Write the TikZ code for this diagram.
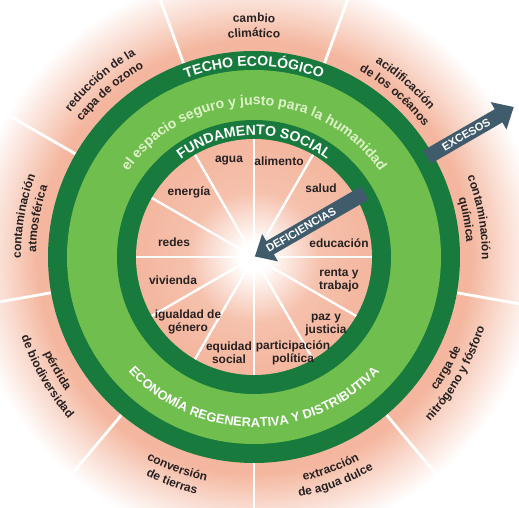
\documentclass[tikz,border=0pt]{standalone}
\usepackage{fontspec}
\setmainfont{Liberation Sans}
\usepackage{xcolor}
\usepackage{tikz}
\usetikzlibrary{arrows.meta, decorations.text}
\definecolor{ceiling}{RGB}{24,122,60}
\definecolor{safezone}{RGB}{112,190,78}
\definecolor{blush}{RGB}{244,182,158}
\definecolor{slate}{RGB}{64,92,108}
\definecolor{inkdark}{RGB}{38,32,32}
\definecolor{palegreen}{RGB}{222,242,200}
\newcommand{\lblfont}{\fontsize{10.2}{11.2}\selectfont\bfseries}
\newcommand{\ringfont}{\fontsize{12}{12}\selectfont\bfseries}
\newcommand{\econfont}{\fontsize{11}{11}\selectfont\bfseries}
\pgfdeclareradialshading{outerglow}{\pgfpoint{0bp}{0bp}}{color(0bp)=(blush); color(18bp)=(blush); color(20.8bp)=(blush!50!white); color(23.8bp)=(white); color(50bp)=(white)}
\pgfdeclareradialshading{innerglow}{\pgfpoint{0bp}{0bp}}{color(0bp)=(white); color(3bp)=(white); color(14bp)=(blush!85!white); color(25bp)=(blush); color(50bp)=(blush)}
\tikzset{
    spoke/.style={white, line width=2.4pt},
    social/.style={font=\lblfont, text=inkdark, align=center, inner sep=0pt},
    curvedlbl/.style={decorate, decoration={text along path, text align=center, text color=inkdark}},
    ringtext/.style={decorate, decoration={text along path, text align=center, text color=white}},
    bigarrow/.style={slate, line width=13pt, -{Triangle[length=15pt, width=26pt]}},
    arrowlbl/.style={font=\fontsize{9.5}{9.5}\selectfont\bfseries, text=white, sloped, inner sep=0pt}
}

\begin{document}
\begin{tikzpicture}[x=0.03cm, y=0.03cm]
    \useasboundingbox (-254,-251) rectangle (265,257);
    \clip (-254,-251) rectangle (265,257);
    \fill[white] (-254,-251) rectangle (265,257);

    % Outer glow and boundary spokes
    \shade[shading=outerglow] (0,0) circle[radius=300];
    \foreach \a in {30,70,...,350}
        \draw[spoke] (\a:206) -- (\a:300);

    % Rings
    \fill[ceiling] (0,0) circle[radius=206];
    \fill[safezone] (0,0) circle[radius=187];
    \fill[ceiling] (0,0) circle[radius=137];
    \shade[shading=innerglow] (0,0) circle[radius=118];
    \foreach \a in {0,30,...,330}
        \draw[spoke, line width=2pt] (0,0) -- (\a:118);

    % Social foundation
    \node[social] (agua) at (-25,96) {agua};
    \node[social] (alimento) at (25,96) {alimento};
    \node[social] (salud) at (67,69) {salud};
    \node[social] (educacion) at (85,14) {educación};
    \node[social] (renta) at (85,-23) {renta y\\trabajo};
    \node[social] (paz) at (72,-68) {paz y\\justicia};
    \node[social] (participacion) at (39,-96) {participación\\política};
    \node[social] (equidad) at (-25,-96) {equidad\\social};
    \node[social] (igualdad) at (-66,-65) {igualdad de\\género};
    \node[social] (vivienda) at (-81,-23) {vivienda};
    \node[social] (redes) at (-80,15) {redes};
    \node[social] (energia) at (-65,65) {energía};

    % Planetary boundaries (top half)
    \path[curvedlbl, decoration={text={|\lblfont|cambio}}] (120:235) arc[start angle=120, end angle=60, radius=235];
    \path[curvedlbl, decoration={text={|\lblfont|climático}}] (120:220) arc[start angle=120, end angle=60, radius=220];
    \path[curvedlbl, decoration={text={|\lblfont|reducción de la}}] (161:234) arc[start angle=161, end angle=101, radius=234];
    \path[curvedlbl, decoration={text={|\lblfont|capa de ozono}}] (161:219) arc[start angle=161, end angle=101, radius=219];
    \path[curvedlbl, decoration={text={|\lblfont|acidificación}}] (79:229) arc[start angle=79, end angle=19, radius=229];
    \path[curvedlbl, decoration={text={|\lblfont|de los océanos}}] (79:214) arc[start angle=79, end angle=19, radius=214];
    \path[curvedlbl, decoration={text={|\lblfont|contaminación}}] (40:228) arc[start angle=40, end angle=-20, radius=228];
    \path[curvedlbl, decoration={text={|\lblfont|química}}] (40:213) arc[start angle=40, end angle=-20, radius=213];
    \path[curvedlbl, decoration={text={|\lblfont|contaminación}}] (200:233) arc[start angle=200, end angle=140, radius=233];
    \path[curvedlbl, decoration={text={|\lblfont|atmosférica}}] (200:218) arc[start angle=200, end angle=140, radius=218];

    % Planetary boundaries (bottom half)
    \path[curvedlbl, decoration={text={|\lblfont|carga de}}] (-60:226) arc[start angle=-60, end angle=0, radius=226];
    \path[curvedlbl, decoration={text={|\lblfont|nitrógeno y fósforo}}] (-60:241) arc[start angle=-60, end angle=0, radius=241];
    \path[curvedlbl, decoration={text={|\lblfont|extracción}}] (-100:229) arc[start angle=-100, end angle=-40, radius=229];
    \path[curvedlbl, decoration={text={|\lblfont|de agua dulce}}] (-100:244) arc[start angle=-100, end angle=-40, radius=244];
    \path[curvedlbl, decoration={text={|\lblfont|conversión}}] (-140:229) arc[start angle=-140, end angle=-80, radius=229];
    \path[curvedlbl, decoration={text={|\lblfont|de tierras}}] (-140:244) arc[start angle=-140, end angle=-80, radius=244];
    \path[curvedlbl, decoration={text={|\lblfont|pérdida}}] (-180:231) arc[start angle=-180, end angle=-120, radius=231];
    \path[curvedlbl, decoration={text={|\lblfont|de biodiversidad}}] (-180:246) arc[start angle=-180, end angle=-120, radius=246];

    % Ring titles
    \path[ringtext, decoration={text={|\ringfont|TECHO ECOLÓGICO}}] (160:191) arc[start angle=160, end angle=20, radius=191];
    \path[ringtext, decoration={text={|\ringfont|FUNDAMENTO SOCIAL}}] (160:122) arc[start angle=160, end angle=20, radius=122];
    \path[ringtext, decoration={text color=palegreen, text={|\ringfont|el espacio seguro y justo para la humanidad}}] (170:152) arc[start angle=170, end angle=10, radius=152];
    \path[ringtext, decoration={text={|\econfont|ECONOMÍA REGENERATIVA Y DISTRIBUTIVA}}] (-170:170) arc[start angle=-170, end angle=-10, radius=170];

    % Shortfall and overshoot arrows
    \coordinate (defTail) at (30:128);
    \coordinate (defTip) at (30:1);
    \coordinate (excTail) at (30:200);
    \coordinate (excTip) at (30:300);
    \draw[bigarrow] (defTail) -- (defTip) node[arrowlbl, pos=0.58] (deflbl) {DEFICIENCIAS};
    \draw[bigarrow] (excTail) -- (excTip) node[arrowlbl, pos=0.45] (exclbl) {EXCESOS};
\end{tikzpicture}
\end{document}
